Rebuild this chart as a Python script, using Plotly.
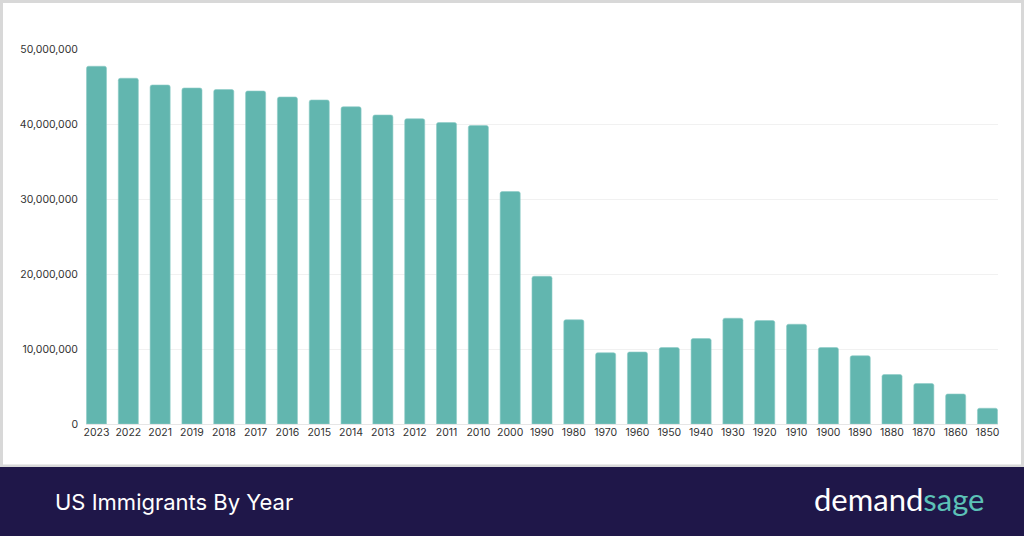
import plotly.graph_objects as go

years = ["2023", "2022", "2021", "2019", "2018", "2017", "2016", "2015", "2014", "2013",
         "2012", "2011", "2010", "2000", "1990", "1980", "1970", "1960", "1950", "1940",
         "1930", "1920", "1910", "1900", "1890", "1880", "1870", "1860", "1850"]
immigrants = [47.7e6, 46.1e6, 45.2e6, 44.8e6, 44.6e6, 44.4e6, 43.6e6, 43.2e6, 42.3e6, 41.2e6,
              40.7e6, 40.2e6, 39.8e6, 31.0e6, 19.7e6, 13.9e6, 9.5e6, 9.6e6, 10.2e6, 11.4e6,
              14.1e6, 13.8e6, 13.3e6, 10.2e6, 9.1e6, 6.6e6, 5.4e6, 4.0e6, 2.1e6]
y_ticks = [0, 10e6, 20e6, 30e6, 40e6, 50e6]

title_text = "US Immigrants By Year"

W, H = 1024, 536
L, R, T, B = 86, 998, 49, 424  # plot area pixel bounds

def px(x):
    return (x - L) / (R - L)

def py(y):
    return (B - y) / (B - T)

fig = go.Figure()
fig.add_trace(go.Bar(
    x=years, y=immigrants,
    marker=dict(color="#62b6af", line=dict(color="#8fcdc7", width=0.6), cornerradius=2),
    hovertemplate="%{x}: %{y:,}<extra></extra>",
))

fig.update_layout(
    width=W, height=H,
    margin=dict(l=L, r=W - R, t=T, b=H - B, pad=0),
    paper_bgcolor="white", plot_bgcolor="white",
    bargap=0.37,
    showlegend=False,
    font=dict(family="Inter, Roboto, sans-serif", color="#3a3a3a"),
    xaxis=dict(type="category", range=[-0.33, 28.33], showgrid=False, zeroline=False,
               showline=False, ticks="", tickfont=dict(size=10.5, color="#333333"),
               fixedrange=True),
    yaxis=dict(range=[0, 50e6], tickvals=y_ticks, tickformat=",d",
               showgrid=True, gridcolor="#f1f1f1", gridwidth=1,
               zeroline=True, zerolinecolor="#e6e6e6", zerolinewidth=1,
               showline=False, ticks="", ticklabelstandoff=7,
               tickfont=dict(size=10.5, color="#333333"), fixedrange=True),
    shapes=[
        # outer light gray frame around chart area
        dict(type="rect", xref="paper", yref="paper",
             x0=px(1.5), x1=px(1022.5), y0=py(466), y1=py(1.5),
             line=dict(color="#d8d8d8", width=3), fillcolor="rgba(0,0,0,0)", layer="above"),
        # dark banner
        dict(type="rect", xref="paper", yref="paper",
             x0=px(0), x1=px(W), y0=py(H), y1=py(467),
             line=dict(width=0), fillcolor="#1f1749", layer="above"),
    ],
    annotations=[
        dict(text=title_text, xref="paper", yref="paper", x=px(53), y=py(502),
             xanchor="left", yanchor="middle", showarrow=False,
             font=dict(size=22, color="#ffffff", family="Inter, Roboto, sans-serif")),
        dict(text="demand<span style='color:#5cc2b7'>sage</span>", xref="paper", yref="paper",
             x=px(986), y=py(499), xanchor="right", yanchor="middle", showarrow=False,
             font=dict(size=31, color="#ffffff", family="Lato, sans-serif")),
    ],
)

fig.write_html("out.html")
